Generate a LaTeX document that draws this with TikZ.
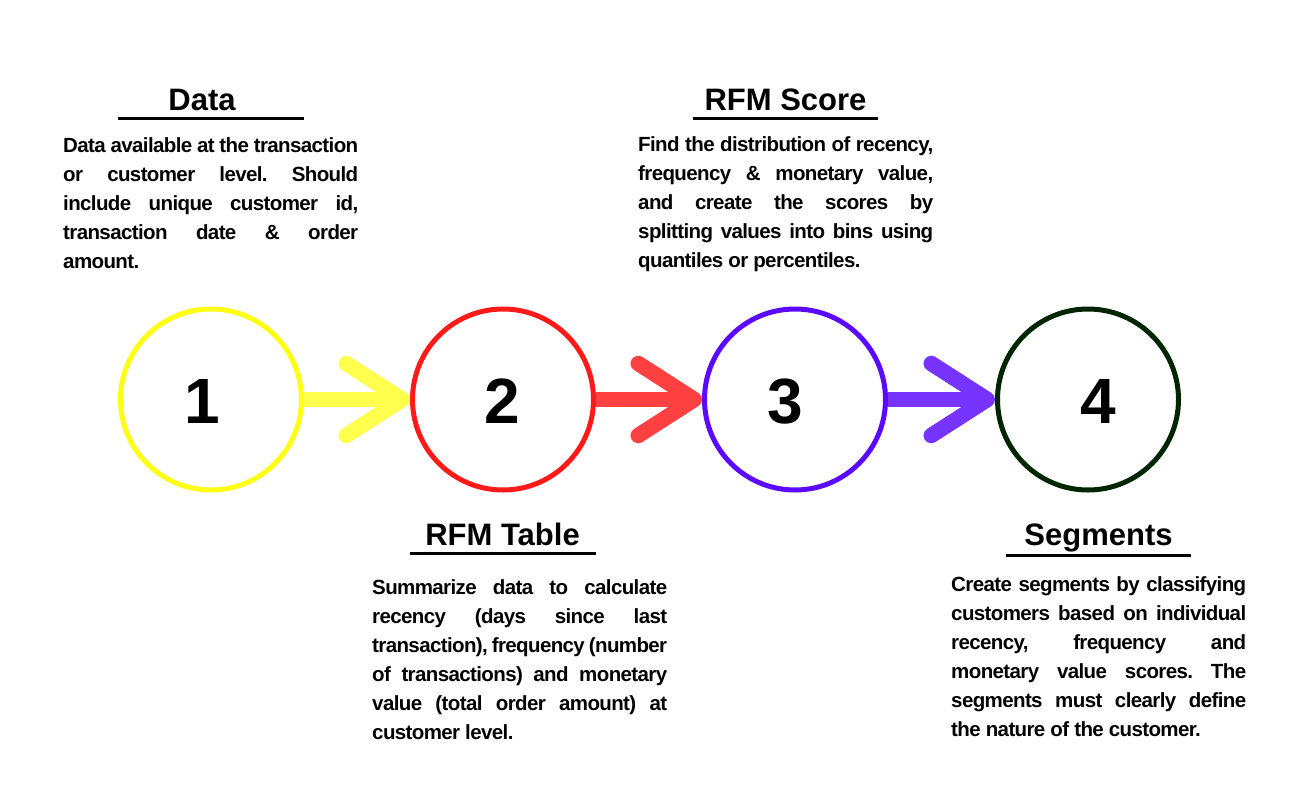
\documentclass[tikz,border=0pt]{standalone}
\usepackage{fontspec}
\setmainfont{Liberation Sans}
\usetikzlibrary{arrows.meta}

\definecolor{stepone}{RGB}{255,255,20}
\definecolor{steptwo}{RGB}{255,26,26}
\definecolor{stepthree}{RGB}{92,10,255}
\definecolor{stepfour}{RGB}{0,38,0}
\definecolor{flowone}{RGB}{255,255,77}
\definecolor{flowtwo}{RGB}{255,64,64}
\definecolor{flowthree}{RGB}{119,51,255}

% one justified line of a blurb
\newcommand{\jline}[1]{\makebox[295pt][s]{#1}}
\newfontfamily\blurbfont[LetterSpace=-3]{Liberation Sans}

\tikzset{
    stepcircle/.style={
        circle,
        draw=#1,
        line width=5pt,
        minimum size=181pt,
        inner sep=0pt
    },
    stepnum/.style={
        font=\fontsize{64}{64}\selectfont\bfseries,
        anchor=base,
        inner sep=0pt
    },
    heading/.style={
        font=\fontsize{31}{31}\selectfont\bfseries,
        anchor=base,
        inner sep=0pt
    },
    headrule/.style={
        line width=3.5pt
    },
    % base anchor sits on the last line
    blurb/.style={
        font=\blurbfont\fontsize{20.5}{29}\selectfont\bfseries\frenchspacing,
        align=left,
        anchor=base west,
        inner sep=0pt
    },
    flowarrow/.style={
        draw=#1,
        line width=15.5pt,
        -{Straight Barb[length=56pt, width=72pt, round]}
    }
}

\begin{document}
\begin{tikzpicture}[x=1pt, y=-1pt]
\useasboundingbox (0,0) rectangle (1300,800);

% --- Steps ---
\node[stepcircle=stepone]   (c1) at (211,399.5) {};
\node[stepcircle=steptwo]   (c2) at (503,399.5) {};
\node[stepcircle=stepthree] (c3) at (795,399.5) {};
\node[stepcircle=stepfour]  (c4) at (1088,399.5) {};

\node[stepnum] (n1) at (202,423) {1};
\node[stepnum] (n2) at (502.5,423) {2};
\node[stepnum] (n3) at (785.5,423) {3};
\node[stepnum] (n4) at (1098.5,423) {4};

% --- Flow ---
\draw[flowarrow=flowone]   (c1) -- (c2);
\draw[flowarrow=flowtwo]   (c2) -- (c3);
\draw[flowarrow=flowthree] (c3) -- (c4);

% --- Top texts ---
\node[heading] (hdata) at (202,110) {Data};
\draw[headrule] (118,118.5) -- (304,118.5);
\node[blurb] (tdata) at (63,268) {%
    \jline{Data available at the transaction}\\
    \jline{or customer level. Should}\\
    \jline{include unique customer id,}\\
    \jline{transaction date \& order}\\
    amount.};

\node[heading] (hscore) at (785.5,110) {RFM Score};
\draw[headrule] (693,118.5) -- (878,118.5);
\node[blurb] (tscore) at (638,267.5) {%
    \jline{Find the distribution of recency,}\\
    \jline{frequency \& monetary value,}\\
    \jline{and create the scores by}\\
    \jline{splitting values into bins using}\\
    quantiles or percentiles.};

% --- Bottom texts ---
\node[heading] (htable) at (502.5,545) {RFM Table};
\draw[headrule] (410,553.5) -- (596,553.5);
\node[blurb] (ttable) at (372,739) {%
    \jline{Summarize data to calculate}\\
    \jline{recency (days since last}\\
    \jline{transaction), frequency (number}\\
    \jline{of transactions) and monetary}\\
    \jline{value (total order amount) at}\\
    customer level.};

\node[heading] (hseg) at (1098.5,545) {Segments};
\draw[headrule] (1006,555.5) -- (1191,555.5);
\node[blurb] (tseg) at (951,736) {%
    \jline{Create segments by classifying}\\
    \jline{customers based on individual}\\
    \jline{recency, frequency and}\\
    \jline{monetary value scores. The}\\
    \jline{segments must clearly define}\\
    the nature of the customer.};

\end{tikzpicture}
\end{document}
